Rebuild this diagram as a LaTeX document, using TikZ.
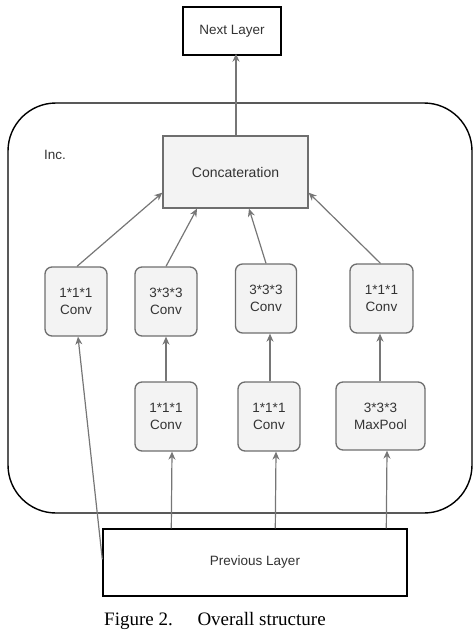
\documentclass[tikz,border=0pt]{standalone}
\usepackage{fontspec}
\setmainfont{Liberation Serif}
\newfontfamily\diagfont{Liberation Sans}
\usetikzlibrary{calc,arrows.meta}
\definecolor{arrowgray}{HTML}{767676}
\definecolor{boxgray}{HTML}{6E6E6E}
\definecolor{boxfill}{HTML}{F3F3F3}
\definecolor{txtgray}{HTML}{333333}
\tikzset{
  convbox/.style={draw=boxgray, line width=1.3pt, fill=boxfill, rounded corners=7pt,
    inner sep=0pt, align=center, font=\diagfont\fontsize{13.5}{17}\selectfont, text=txtgray},
  layerbox/.style={draw=black, line width=1.4pt, fill=white, inner sep=0pt,
    font=\diagfont\fontsize{13.5}{16}\selectfont, text=txtgray},
  concatbox/.style={draw=boxgray, line width=1.3pt, fill=boxfill, inner sep=0pt,
    font=\diagfont\fontsize{14}{16}\selectfont, text=txtgray},
  flow/.style={draw=arrowgray, line width=1.2pt, -{Stealth[length=8pt,width=7pt]}},
}
\begin{document}
\begin{tikzpicture}[x=1pt,y=-1pt]
\useasboundingbox (0,0) rectangle (474,630);
% outer rounded container
\draw[black, line width=1.4pt, rounded corners=48pt] (8,103) rectangle (472,513);
\node[anchor=west, font=\diagfont\fontsize{13.5}{16}\selectfont, text=txtgray, inner sep=0pt] (inc) at (44,155) {Inc.};
% nodes
\node[layerbox, minimum width=98pt, minimum height=48pt] (next) at (232,31) {Next Layer};
\node[concatbox, minimum width=145pt, minimum height=72pt] (concat) at (235.5,172) {Concateration};
\node[convbox, minimum width=62pt, minimum height=69pt] (b1) at (76,301.5) {1*1*1\\Conv};
\node[convbox, minimum width=62pt, minimum height=69pt] (b2) at (166,301.5) {3*3*3\\Conv};
\node[convbox, minimum width=61pt, minimum height=69pt] (b3) at (266,298.5) {3*3*3\\Conv};
\node[convbox, minimum width=63pt, minimum height=69pt] (b4) at (381.5,298.5) {1*1*1\\Conv};
\node[convbox, minimum width=62pt, minimum height=69pt] (b5) at (166,416.5) {1*1*1\\Conv};
\node[convbox, minimum width=62pt, minimum height=69pt] (b6) at (269,416.5) {1*1*1\\Conv};
\node[convbox, minimum width=89pt, minimum height=68pt] (b7) at (380.5,416) {3*3*3\\MaxPool};
\node[layerbox, minimum width=304pt, minimum height=67pt] (prev) at (255,562.5) {Previous Layer};
% caption
\node[anchor=base west, inner sep=0pt, font=\fontsize{19}{22}\selectfont] (cap) at (104,625) {Figure 2.\hspace{1.3em}Overall structure};
% connectors
\draw[flow] ($(concat.north)+(0.5,0)$) -- ($(concat.north |- next.south)+(0.5,-2)$);
\draw[flow] ($(b1.north)+(1,0)$) -- ($(concat.south west)+(0,-16)$);
\draw[flow] (b2.north) -- ($(concat.south)+(-38.5,0)$);
\draw[flow] (b3.north) -- ($(concat.south)+(13.5,0)$);
\draw[flow] ($(b4.north)+(-1,0)$) -- ($(concat.south east)+(0,-16)$);
\draw[flow] (b5.north) -- (b2.south);
\draw[flow] ($(b6.north)+(1,0)$) -- ($(b3.south)+(4,0)$);
\draw[flow] ($(b7.north)+(-0.5,0)$) -- ($(b4.south)+(-1.5,0)$);
\draw[flow] ($(prev.north west)+(69,0)$) -- ($(b5.south)+(6,0)$);
\draw[flow] ($(prev.north west)+(173,0)$) -- ($(b6.south)+(7,0)$);
\draw[flow] ($(prev.north west)+(284,0)$) -- ($(b7.south)+(6.5,0)$);
\draw[flow] ($(prev.north west)+(0,31)$) -- ($(b1.south)+(2,0)$);
\end{tikzpicture}
\end{document}
